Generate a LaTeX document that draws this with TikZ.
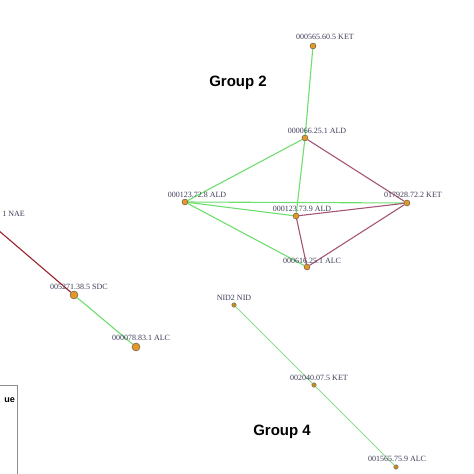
\documentclass[tikz,border=0pt]{standalone}
\usepackage{fontspec}
\setmainfont{Liberation Serif}
\setsansfont{Liberation Sans}
\usepackage{tikz}
\usepackage{xcolor}
\definecolor{edgegreen}{RGB}{110,222,110}
\definecolor{edgepale}{RGB}{140,220,140}
\definecolor{edgemauve}{RGB}{165,85,115}
\definecolor{edgered}{RGB}{155,35,45}
\definecolor{dotfill}{RGB}{228,150,40}
\definecolor{labcol}{RGB}{60,60,88}

\begin{document}
\begin{tikzpicture}[x=1pt,y=-1pt,
    dot/.style={circle,draw=black!70,fill=dotfill,inner sep=0pt,minimum size=6pt,line width=0.4pt},
    bigdot/.style={dot,minimum size=8pt},
    smalldot/.style={circle,draw=black!60,fill=dotfill!70!olive,inner sep=0pt,minimum size=4.5pt,line width=0.4pt},
    lab/.style={font=\fontsize{8}{8}\selectfont,text=labcol,inner sep=0pt},
    grp/.style={font=\sffamily\bfseries\fontsize{15}{15}\selectfont,inner sep=0pt},
    gedge/.style={edgegreen,line width=1.1pt},
    medge/.style={edgemauve,line width=1.1pt}]
    \useasboundingbox (0,0) rectangle (474,474);
    \clip (0,0) rectangle (474,474);

    \node[dot] (K1) at (313,46) {};
    \node[dot] (D1) at (305,138) {};
    \node[dot] (D2) at (185,202) {};
    \node[dot] (D3) at (296,216) {};
    \node[dot] (K2) at (407,203) {};
    \node[dot] (C1) at (307,267) {};
    \node[dot] (N1) at (-9,224) {};
    \node[bigdot] (S1) at (74,295) {};
    \node[bigdot] (C2) at (136,347) {};
    \node[smalldot] (N2) at (234,305) {};
    \node[smalldot] (K3) at (314,385) {};
    \node[smalldot] (C3) at (396,467) {};

    \draw[gedge] (K1)--(D1);
    \draw[gedge] (D1)--(D2);
    \draw[gedge] (D1)--(D3);
    \draw[gedge] (D2)--(K2);
    \draw[gedge] (D2)--(D3);
    \draw[gedge] (D2)--(C1);
    \draw[medge] (D1)--(K2);
    \draw[medge] (D3)--(K2);
    \draw[medge] (D3)--(C1);
    \draw[medge] (K2)--(C1);

    \draw[edgered,line width=1.1pt] (N1)--(S1);
    \draw[gedge] (S1)--(C2);

    \draw[edgepale,line width=1pt] (N2)--(K3);
    \draw[edgepale,line width=1pt] (K3)--(C3);

    \node[lab] (lK1) at (325,37) {000565.60.5 KET};
    \node[lab] (lD1) at (317,131) {000066.25.1 ALD};
    \node[lab] (lD2) at (197,195) {000123.72.8 ALD};
    \node[lab] (lD3) at (302,209) {000123.73.9 ALD};
    \node[lab] (lK2) at (413,195) {017928.72.2 KET};
    \node[lab] (lC1) at (312,261) {000616.25.1 ALC};
    \node[lab,anchor=east] (lN1) at (25,214) {1 NAE};
    \node[lab] (lS1) at (79,287) {005271.38.5 SDC};
    \node[lab] (lC2) at (141,338) {000078.83.1 ALC};
    \node[lab] (lN2) at (234,298) {NID2 NID};
    \node[lab] (lK3) at (319,378) {002040.07.5 KET};
    \node[lab] (lC3) at (397,459) {001565.75.9 ALC};

    \node[grp] (G2) at (238,83) {Group 2};
    \node[grp] (G4) at (282,432) {Group 4};

    \draw[black!45,line width=0.8pt] (0,385)--(17,385)--(17,474);
    \node[font=\sffamily\bfseries\fontsize{9}{9}\selectfont,anchor=east,inner sep=0pt] (lV) at (15,400) {ue};
\end{tikzpicture}
\end{document}
